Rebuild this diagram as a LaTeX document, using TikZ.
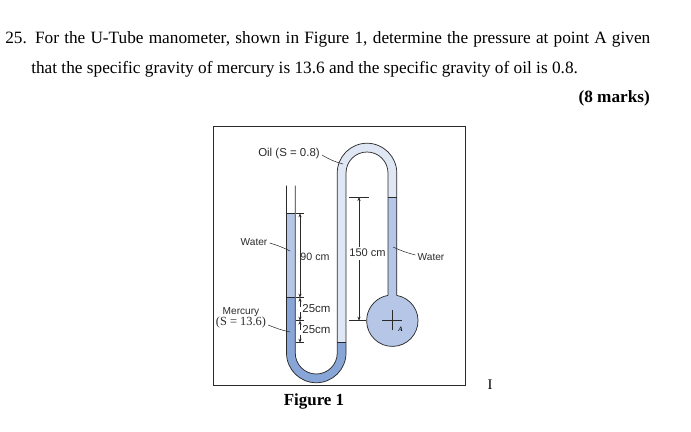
\documentclass[tikz,border=0pt]{standalone}
\usepackage{fontspec}
\setmainfont{Liberation Serif}
\newfontfamily\lsans{Liberation Sans}
\usetikzlibrary{arrows.meta,calc}
\definecolor{wat}{HTML}{B5C6E7}
\definecolor{merc}{HTML}{88A5D8}
\definecolor{oilc}{HTML}{DFE6F4}
\definecolor{ln}{HTML}{2A2A2A}
\tikzset{
 para/.style={inner sep=0pt,anchor=base west,font=\fontsize{12.95}{15}\selectfont,text=black},
 lab/.style={inner sep=0pt,font=\lsans\fontsize{7.6}{9}\selectfont,text=ln},
 biglab/.style={inner sep=0pt,font=\lsans\fontsize{8.6}{10}\selectfont,text=ln},
 tube/.style={draw=ln,line width=0.55pt},
 lead/.style={draw=ln,line width=0.4pt},
 dim/.style={draw=ln,line width=0.4pt},
 dimarr/.style={dim,-{Stealth[length=3pt,width=2.4pt]}},
}
\begin{document}
\begin{tikzpicture}[x=0.75pt,y=0.75pt]
\useasboundingbox (0,0) rectangle (691,431);
% text
\node[para] (q1) at (5,387) {\hbox to 483.75pt{25. For the U-Tube manometer, shown in Figure 1, determine the pressure at point A given}};
\node[para] (q2) at (31,357) {that the specific gravity of mercury is 13.6 and the specific gravity of oil is 0.8.};
\node[para,anchor=base east,font=\bfseries\fontsize{12.9}{15}\selectfont] (marks) at (650,328) {(8 marks)};
% frame
\draw[draw=ln,line width=0.75pt] (213,304) rectangle (465,45);
% fluids
\fill[merc] (286.5,133.3) -- (286.5,78) arc (180:360:29.75) -- (346,88.3) -- (337.25,88.3) -- (337.25,78) arc (0:-180:21) -- (295.25,133.3) -- cycle;
\fill[wat] (286.5,133.3) rectangle (295.25,217.7);
\fill[oilc] (337.25,88.3) -- (337.25,258) arc (180:0:29.75) -- (396.75,234) -- (388,234) -- (388,258) arc (0:180:21) -- (346,88.3) -- cycle;
\fill[wat] (388,234) rectangle (396.75,130);
\fill[wat] (392.4,110.3) circle (25.7);
% tube outlines
\draw[tube] (286.5,245.3) -- (286.5,78) arc (180:360:29.75) -- (346,258) arc (180:0:21) -- (388,135.6);
\draw[tube] (295.25,245.3) -- (295.25,78) arc (180:360:21) -- (337.25,258) arc (180:0:29.75) -- (396.75,135.6);
\draw[tube] (396.75,135.6) arc (80.1:-260.1:25.7);
% levels
\draw[tube] (286.5,217.7) -- (295.25,217.7);
\draw[tube] (286.5,133.3) -- (295.25,133.3);
\draw[tube] (337.25,88.3) -- (346,88.3);
\draw[tube] (388,234) -- (396.75,234);
% point A
\draw[line width=0.5pt,ln] (382,110.3) -- (402,110.3) (392.4,100.5) -- (392.4,120.5);
\node[inner sep=0pt,font=\bfseries\itshape\fontsize{5}{6}\selectfont] (pA) at (400.5,102) {A};
% labels
\node[biglab] (oil) at (289,277) {Oil (S = 0.8)};
\node[lab] (wl) at (254,189) {Water};
\node[lab] (wr) at (431,174) {Water};
\node[lab,align=center] (hg) at (241,113) {Mercury\\[-1pt]{\rmfamily\fontsize{9.3}{10}\selectfont (S = 13.6)}};
\coordinate (oilp) at (343,267);
\coordinate (wlp) at (290,180);
\coordinate (wrp) at (393,184);
\coordinate (hgp) at (290,99);
\draw[lead] ($(oil.east)+(2,-1)$) to[bend right=8] (oilp);
\draw[lead] ($(wl.east)+(2,-1)$) to[bend left=5] (wlp);
\draw[lead] (wrp) to[bend right=5] ($(wr.west)+(-2,2)$);
\draw[lead] ($(hg.east)+(2,-7)$) to[bend right=5] (hgp);
% dims
\node[lab,font=\lsans\fontsize{8}{9}\selectfont] (d90) at (315,174) {90 cm};
\node[lab,font=\lsans\fontsize{8.3}{9}\selectfont] (d150) at (367.5,178) {150 cm};
\node[biglab] (d25a) at (316.5,122) {25cm};
\node[biglab] (d25b) at (316.5,101) {25cm};
\coordinate (t1) at (300,217.7);
\coordinate (t2) at (300,133.3);
\coordinate (t3) at (300,110.3);
\coordinate (t4) at (300,88.3);
\draw[dim] (296,217.7) -- (304,217.7) (296,133.3) -- (304,133.3) (296,110.3) -- (304,110.3) (296,88.3) -- (304,88.3);
\draw[dimarr] (300,180) -- (t1);
\draw[dimarr] (300,180) -- (t2);
\draw[dimarr] (300,124) -- (t2);
\draw[dimarr] (300,119) -- (t3);
\draw[dimarr] (300,101) -- (t3);
\draw[dimarr] (300,96) -- (t4);
\coordinate (s1) at (359,234);
\coordinate (s2) at (359,110.3);
\draw[dim] (349,234) -- (369,234) (349,110.3) -- (366,110.3);
\draw[dimarr] (359,184) -- (s1);
\draw[dimarr] (359,171) -- (s2);
% figure caption
\node[inner sep=0pt,font=\bfseries\fontsize{12.7}{14}\selectfont] (figcap) at (314,30) {Figure 1};
\node[inner sep=0pt,font=\fontsize{11}{13}\selectfont] (cursor) at (490,46) {I};
\end{tikzpicture}
\end{document}
